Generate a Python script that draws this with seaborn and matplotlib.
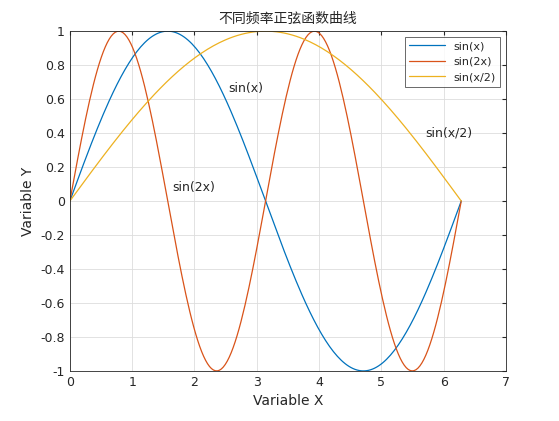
import numpy as np
import pandas as pd
import seaborn as sns
import matplotlib.pyplot as plt

# series definitions: label, frequency, colour
labels = ["sin(x)", "sin(2x)", "sin(x/2)"]
freqs = [1.0, 2.0, 0.5]
colors = ["#0072BD", "#D95319", "#EDB120"]
# text annotation positions
ann_x = [2.54, 1.64, 5.7]
ann_y = [0.64, 0.06, 0.38]
y_ticks = [-1, -0.8, -0.6, -0.4, -0.2, 0, 0.2, 0.4, 0.6, 0.8, 1]

x = np.linspace(0, 2 * np.pi, 200)
frames = [pd.DataFrame({"x": x, "y": np.sin(f * x), "series": lab}) for lab, f in zip(labels, freqs)]
df = pd.concat(frames)

sns.set_style("white")
plt.rcParams["font.family"] = ["DejaVu Sans", "Noto Sans CJK SC"]

fig = plt.figure(figsize=(5.59, 4.21), dpi=100)
ax = fig.add_axes([0.125, 0.119, 0.78, 0.807])
sns.lineplot(data=df, x="x", y="y", hue="series", palette=colors, ax=ax, linewidth=0.9, sort=False)

for lab, tx, ty in zip(labels, ann_x, ann_y):
    ax.text(tx, ty, lab, fontsize=9)

ax.set_xlim(0, 7)
ax.set_ylim(-1, 1)
ax.set_xticks(range(0, 8))
ax.set_yticks(y_ticks)
ax.set_yticklabels([f"{v:g}" for v in y_ticks])
ax.tick_params(direction="in", labelsize=9, top=True, right=True, length=3)
ax.grid(True, color="#dddddd", linewidth=0.6)
for s in ax.spines.values():
    s.set_color("#262626")
    s.set_linewidth(0.6)
ax.set_xlabel("Variable X", fontsize=10)
ax.set_ylabel("Variable Y", fontsize=10)
ax.set_title("不同频率正弦函数曲线", fontsize=10, family=["Noto Sans CJK SC", "DejaVu Sans"])
leg = ax.legend(loc="upper right", fontsize=8, frameon=True, fancybox=False, edgecolor="#262626", handlelength=3.2)
leg.get_frame().set_linewidth(0.6)

fig.savefig("out.png", dpi=100)
